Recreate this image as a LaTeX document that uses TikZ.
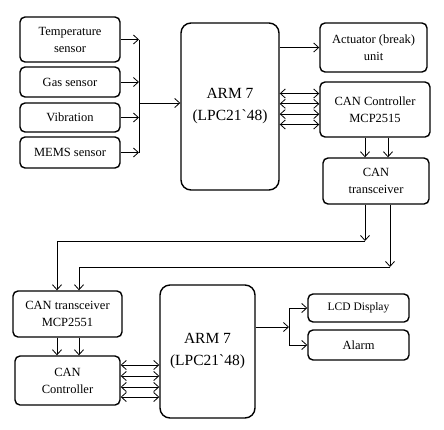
\documentclass[tikz,border=0pt]{standalone}
\usepackage{fontspec}
\setmainfont{Liberation Serif}
\usetikzlibrary{arrows.meta}
\begin{document}
\begin{tikzpicture}[x=1pt,y=-1pt,
 box/.style={draw, line width=1.4pt, rounded corners=5pt, align=center, inner sep=0pt},
 fs/.style={font=\fontsize{12.5}{17}\selectfont},
 big/.style={font=\fontsize{15.5}{22}\selectfont},
 conn/.style={line width=0.8pt},
 arr/.style={conn, -{Straight Barb[length=5pt,width=9pt]}},
 darr/.style={conn, {Straight Barb[length=5pt,width=9pt]}-{Straight Barb[length=5pt,width=9pt]}}]
\fill[white] (0,0) rectangle (444,429);
\useasboundingbox (0,0) rectangle (444,429);
% top part
\node[box,fs,minimum width=100pt,minimum height=45pt] (temp) at (70,39.5) {Temperature\\sensor};
\node[box,fs,minimum width=100pt,minimum height=30pt] (gas) at (70,82) {Gas sensor};
\node[box,fs,minimum width=100pt,minimum height=29pt] (vib) at (70,117.5) {Vibration};
\node[box,fs,minimum width=100pt,minimum height=31pt] (mems) at (70,152.5) {MEMS sensor};
\node[box,big,rounded corners=10pt,minimum width=98pt,minimum height=167pt] (arm1) at (230,106.5) {ARM 7\\(LPC21\textasciigrave 48)};
\node[box,fs,minimum width=107pt,minimum height=49pt] (act) at (373.5,47.5) {Actuator (break)\\unit};
\node[box,fs,minimum width=110pt,minimum height=55pt] (canc1) at (375,109.5) {CAN Controller\\MCP2515};
\node[box,fs,minimum width=106pt,minimum height=46pt] (cant1) at (376,181) {CAN\\transceiver};
% bottom part
\node[box,fs,minimum width=109pt,minimum height=46pt] (mcp) at (67.5,314) {CAN transceiver\\MCP2551};
\node[box,fs,minimum width=105pt,minimum height=49pt] (canc2) at (67.5,380.5) {CAN\\Controller};
\node[box,big,rounded corners=10pt,minimum width=95pt,minimum height=133pt] (arm2) at (207.5,351.5) {ARM 7\\(LPC21\textasciigrave 48)};
\node[box,font=\fontsize{11.5}{14}\selectfont,minimum width=101pt,minimum height=28pt] (lcd) at (358.5,308) {LCD Display};
\node[box,fs,minimum width=101pt,minimum height=30pt] (alarm) at (358.5,345) {Alarm};
% coordinates
\coordinate (bx) at (139,103);
\coordinate (c1) at (365,241);
\coordinate (c2) at (390,267);
\coordinate (d1) at (57,241);
\coordinate (d2) at (79,267);
\coordinate (s) at (289,327);
% sensors to ARM
\draw[arr] (temp.east) -- (temp.east -| bx);
\draw[arr] (gas.east) -- (gas.east -| bx);
\draw[arr] (vib.east) -- (vib.east -| bx);
\draw[arr] (mems.east) -- (mems.east -| bx);
\draw[conn] (temp.east -| bx) -- (mems.east -| bx);
\draw[arr] (bx) -- (arm1.west |- bx);
% ARM to actuator
\draw[arr] (arm1.east |- act.west) -- (act.west);
% ARM <-> CAN controller
\draw[darr] ([yshift=16pt]arm1.east |- canc1.west) -- ([yshift=16pt]canc1.west);
\draw[darr] ([yshift=5.7pt]arm1.east |- canc1.west) -- ([yshift=5.7pt]canc1.west);
\draw[darr] ([yshift=-4.6pt]arm1.east |- canc1.west) -- ([yshift=-4.6pt]canc1.west);
\draw[darr] ([yshift=-15pt]arm1.east |- canc1.west) -- ([yshift=-15pt]canc1.west);
% CAN controller to transceiver
\draw[arr] (canc1.south -| c1) -- (cant1.north -| c1);
\draw[arr] ([xshift=-2pt]canc1.south -| c2) -- ([xshift=-2pt]cant1.north -| c2);
% transceiver to bus
\draw[arr] (cant1.south -| c1) -- (c1);
\draw[arr] (cant1.south -| c2) -- (c2);
\draw[conn] (c1) -- (d1);
\draw[conn] (c2) -- (d2);
\draw[arr] (d1) -- (mcp.north -| d1);
\draw[arr] (d2) -- (mcp.north -| d2);
% MCP2551 to CAN controller
\draw[arr] (mcp.south -| d1) -- (canc2.north -| d1);
\draw[arr] (mcp.south -| d2) -- (canc2.north -| d2);
% CAN controller <-> ARM
\draw[darr] ([yshift=15.5pt]canc2.east) -- ([yshift=15.5pt]arm2.west |- canc2.east);
\draw[darr] ([yshift=4.5pt]canc2.east) -- ([yshift=4.5pt]arm2.west |- canc2.east);
\draw[darr] ([yshift=-6.5pt]canc2.east) -- ([yshift=-6.5pt]arm2.west |- canc2.east);
\draw[darr] ([yshift=-16.5pt]canc2.east) -- ([yshift=-16.5pt]arm2.west |- canc2.east);
% ARM to outputs
\draw[arr] (arm2.east |- s) -- (s);
\draw[conn] (s |- lcd.west) -- (s |- alarm.west);
\draw[arr] (s |- lcd.west) -- (lcd.west);
\draw[arr] (s |- alarm.west) -- (alarm.west);
\end{tikzpicture}
\end{document}
